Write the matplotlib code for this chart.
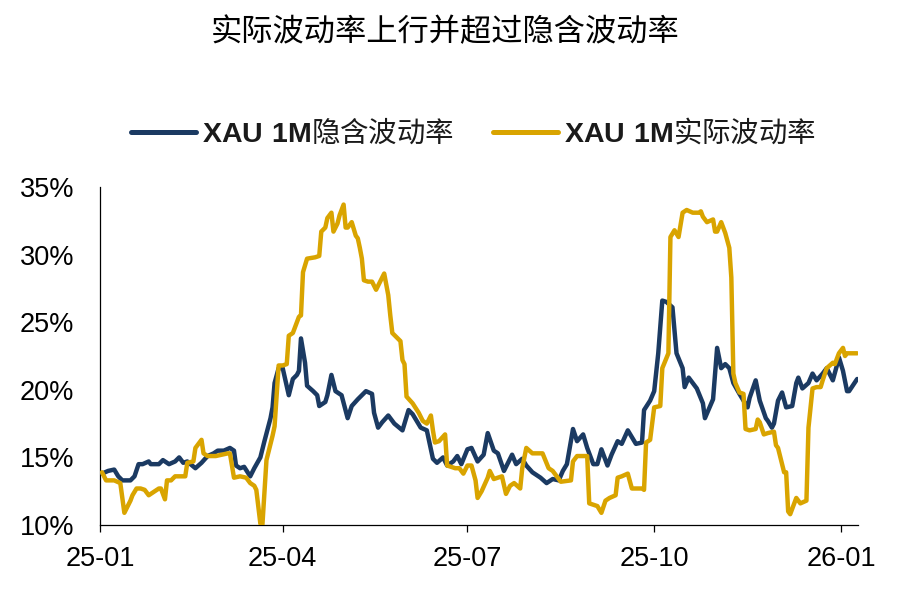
import numpy as np
import pandas as pd
import matplotlib
matplotlib.use("Agg")
import matplotlib.pyplot as plt
import matplotlib.dates as mdates

plt.rcParams['font.family'] = ['Liberation Sans', 'Noto Sans CJK SC', 'DejaVu Sans']
plt.rcParams['mathtext.fontset'] = 'custom'
plt.rcParams['mathtext.bf'] = 'Liberation Sans:bold'
plt.rcParams['mathtext.rm'] = 'Liberation Sans'

# ---------------- data ----------------
start_date = "2025-01-01"
end_date = "2026-01-09"

title = "实际波动率上行并超过隐含波动率"
iv_label = r"$\mathbf{XAU\ 1M}$隐含波动率"
rv_label = r"$\mathbf{XAU\ 1M}$实际波动率"

# days since 2025-01-01
iv_days = [1, 4, 7, 9, 11, 15, 17, 19, 21, 24, 25, 29, 31, 34, 37, 39, 41, 43, 47, 50,
           53, 56, 58, 61, 64, 66, 67, 69, 71, 74, 76, 79, 81, 84, 85, 86, 88, 90, 93, 95,
           97, 98, 99, 101, 102, 105, 107, 108, 111, 112, 114, 116, 119, 122, 124, 127, 129, 131, 134, 135,
           137, 139, 142, 145, 149, 152, 154, 158, 161, 164, 166, 169, 171, 174, 176, 178, 181, 183, 186, 189,
           191, 194, 196, 199, 203, 205, 208, 210, 213, 217, 220, 223, 226, 228, 230, 233, 235, 238, 240, 243,
           245, 247, 250, 252, 255, 257, 260, 262, 264, 267, 268, 271, 273, 275, 277, 279, 282, 284, 287, 288,
           290, 294, 297, 298, 300, 302, 304, 306, 308, 310, 312, 315, 319, 320, 323, 325, 328, 329, 331, 332,
           334, 336, 338, 341, 343, 344, 346, 349, 351, 353, 356, 358, 361, 363, 364, 366, 368, 369, 373]
iv_vals = [13.8, 14.0, 14.1, 13.6, 13.3, 13.3, 13.6, 14.5, 14.5, 14.7, 14.5, 14.5, 14.8, 14.5, 14.7, 15.0, 14.6, 14.7, 14.2, 14.6,
           15.1, 15.3, 15.5, 15.5, 15.7, 15.5, 14.4, 14.2, 14.3, 13.6, 14.2, 15.0, 16.2, 17.9, 18.7, 20.5, 21.6, 21.6, 19.6, 20.8,
           21.1, 21.4, 23.8, 22.0, 20.3, 19.9, 19.6, 18.8, 19.1, 19.6, 21.1, 19.9, 19.6, 17.9, 18.8, 19.3, 19.6, 19.9, 19.7, 18.3,
           17.2, 17.6, 18.1, 17.5, 17.0, 18.5, 18.2, 17.2, 17.0, 14.9, 14.6, 15.0, 14.4, 14.7, 15.1, 14.5, 15.6, 15.7, 14.7, 15.2,
           16.8, 15.5, 15.3, 14.0, 15.2, 14.5, 14.9, 14.4, 13.9, 13.5, 13.1, 13.4, 13.3, 14.0, 14.5, 17.1, 16.2, 16.7, 15.7, 14.5,
           14.5, 15.6, 14.4, 15.2, 16.2, 16.0, 17.0, 16.5, 16.0, 16.1, 18.5, 19.2, 19.9, 22.7, 26.6, 26.5, 26.1, 22.7, 21.6, 20.2,
           20.9, 20.1, 19.0, 17.9, 18.6, 19.3, 23.1, 21.6, 21.9, 21.6, 20.5, 19.7, 18.7, 19.4, 20.7, 19.2, 17.9, 17.7, 17.2, 17.5,
           19.2, 19.8, 18.7, 18.8, 20.5, 20.9, 20.1, 20.5, 21.2, 20.7, 21.2, 21.6, 20.7, 21.8, 22.4, 21.4, 19.9, 19.9, 20.8]

rv_days = [1, 3, 7, 10, 12, 15, 16, 18, 20, 22, 24, 26, 29, 30, 32, 33, 35, 37, 41, 42,
           43, 46, 47, 50, 51, 53, 57, 60, 63, 64, 66, 69, 72, 74, 76, 77, 79, 80, 82, 85,
           86, 88, 90, 92, 93, 95, 98, 99, 100, 102, 106, 108, 109, 111, 112, 114, 115, 117, 118, 120,
           121, 122, 124, 126, 127, 128, 129, 130, 132, 134, 136, 138, 140, 142, 143, 144, 146, 148, 149, 150,
           151, 154, 157, 159, 161, 163, 164, 165, 167, 170, 171, 175, 177, 179, 181, 183, 185, 186, 188, 191,
           192, 194, 196, 198, 200, 202, 204, 207, 208, 210, 213, 218, 221, 223, 225, 227, 232, 233, 235, 240,
           241, 245, 247, 249, 251, 254, 255, 257, 260, 262, 267, 268, 269, 271, 273, 276, 277, 280, 281, 283,
           285, 287, 289, 292, 295, 296, 297, 299, 302, 303, 304, 306, 308, 310, 311, 312, 313, 315, 317, 318,
           320, 323, 324, 325, 327, 329, 332, 333, 334, 336, 337, 338, 339, 340, 343, 345, 348, 349, 351, 353,
           355, 356, 358, 361, 362, 364, 366, 367, 368, 373]
rv_vals = [13.9, 13.3, 13.3, 13.1, 10.9, 11.8, 12.2, 12.7, 12.7, 12.6, 12.2, 12.4, 12.7, 12.7, 11.9, 13.3, 13.3, 13.6, 13.6, 13.6,
           14.6, 14.7, 15.7, 16.3, 15.3, 15.1, 15.1, 15.2, 15.3, 15.3, 13.5, 13.6, 13.5, 13.1, 12.9, 12.6, 10.1, 10.0, 14.8, 16.6,
           17.3, 21.8, 21.8, 21.9, 24.0, 24.2, 25.4, 25.5, 28.7, 29.7, 29.8, 29.9, 31.7, 32.0, 32.7, 33.1, 31.7, 32.3, 32.9, 33.7,
           32.0, 32.0, 32.4, 31.4, 31.2, 30.5, 29.7, 28.1, 28.0, 28.0, 27.4, 28.0, 28.6, 27.0, 25.5, 24.2, 23.9, 23.6, 22.2, 21.9,
           19.5, 19.0, 18.3, 17.7, 17.5, 18.1, 17.0, 16.1, 16.2, 16.7, 14.4, 14.2, 14.2, 13.8, 14.4, 14.4, 13.3, 12.0, 12.5, 13.5,
           14.0, 13.4, 13.5, 13.6, 12.3, 12.9, 13.1, 12.7, 14.2, 15.7, 15.3, 15.3, 14.2, 14.0, 13.6, 13.2, 13.3, 14.7, 15.1, 15.1,
           11.6, 11.4, 10.9, 11.8, 12.0, 12.2, 13.5, 13.6, 13.8, 12.7, 12.7, 12.6, 16.1, 16.3, 18.7, 18.8, 21.6, 22.7, 31.3, 31.8,
           31.3, 33.1, 33.3, 33.1, 33.1, 33.2, 32.8, 32.4, 32.6, 31.7, 31.7, 32.4, 31.6, 30.5, 28.3, 21.2, 20.5, 19.8, 19.7, 17.1,
           17.0, 17.1, 17.8, 17.6, 16.7, 16.8, 16.9, 15.9, 15.7, 14.5, 13.9, 13.9, 11.0, 10.8, 12.0, 11.6, 11.8, 17.2, 20.1, 20.2,
           20.2, 20.7, 21.6, 22.0, 21.9, 22.7, 23.1, 22.5, 22.7, 22.7]

y_ticks = [10, 15, 20, 25, 30, 35]
x_ticks = ["2025-01-01", "2025-04-01", "2025-07-01", "2025-10-01", "2026-01-01"]

# ---------------- plot ----------------
base = pd.Timestamp(start_date)
iv_dates = base + pd.to_timedelta(iv_days, unit="D")
rv_dates = base + pd.to_timedelta(rv_days, unit="D")

navy = "#1b3a62"
gold = "#d9a400"

fig = plt.figure(figsize=(9.04, 5.92), dpi=100)
ax = fig.add_axes([100 / 904, 1 - 525 / 592, 758 / 904, 338 / 592])

ax.plot(iv_dates, iv_vals, color=navy, lw=3.2, label=iv_label,
        solid_joinstyle="round", solid_capstyle="round", zorder=3)
ax.plot(rv_dates, rv_vals, color=gold, lw=3.2, label=rv_label,
        solid_joinstyle="round", solid_capstyle="round", zorder=4)

ax.set_ylim(10, 35)
ax.set_yticks(y_ticks)
ax.set_yticklabels([f"{v}%" for v in y_ticks])
ax.set_xlim(base, base + pd.Timedelta(days=373.4))
ax.set_xticks(pd.to_datetime(x_ticks))
ax.xaxis.set_major_formatter(mdates.DateFormatter("%y-%m"))

for s in ["top", "right"]:
    ax.spines[s].set_visible(False)
for s in ["left", "bottom"]:
    ax.spines[s].set_color("black")
    ax.spines[s].set_linewidth(0.9)

ax.tick_params(axis="y", length=0, pad=18.5, labelsize=19.5, labelcolor="black")
ax.tick_params(axis="x", length=5, width=0.9, direction="out", pad=10,
               labelsize=19.5, labelcolor="black", color="black")

fig.text(445 / 904, 1 - 32 / 592, title, ha="center", va="center",
         fontsize=22.5, family=["Noto Sans CJK SC", "DejaVu Sans"], color="black")

leg = fig.legend(loc="center", bbox_to_anchor=(473.5 / 904, 1 - 133 / 592),
                 ncol=2, frameon=False, handlelength=2.3, handletextpad=0.22,
                 columnspacing=1.35, borderpad=0.0,
                 prop={"family": ["Noto Sans CJK SC"], "size": 20.5})
for t in leg.get_texts():
    t.set_color("#1a1a1a")
for h in leg.get_lines():
    h.set_linewidth(3.6)
    h.set_solid_capstyle("round")

fig.savefig("out.png", dpi=100)
